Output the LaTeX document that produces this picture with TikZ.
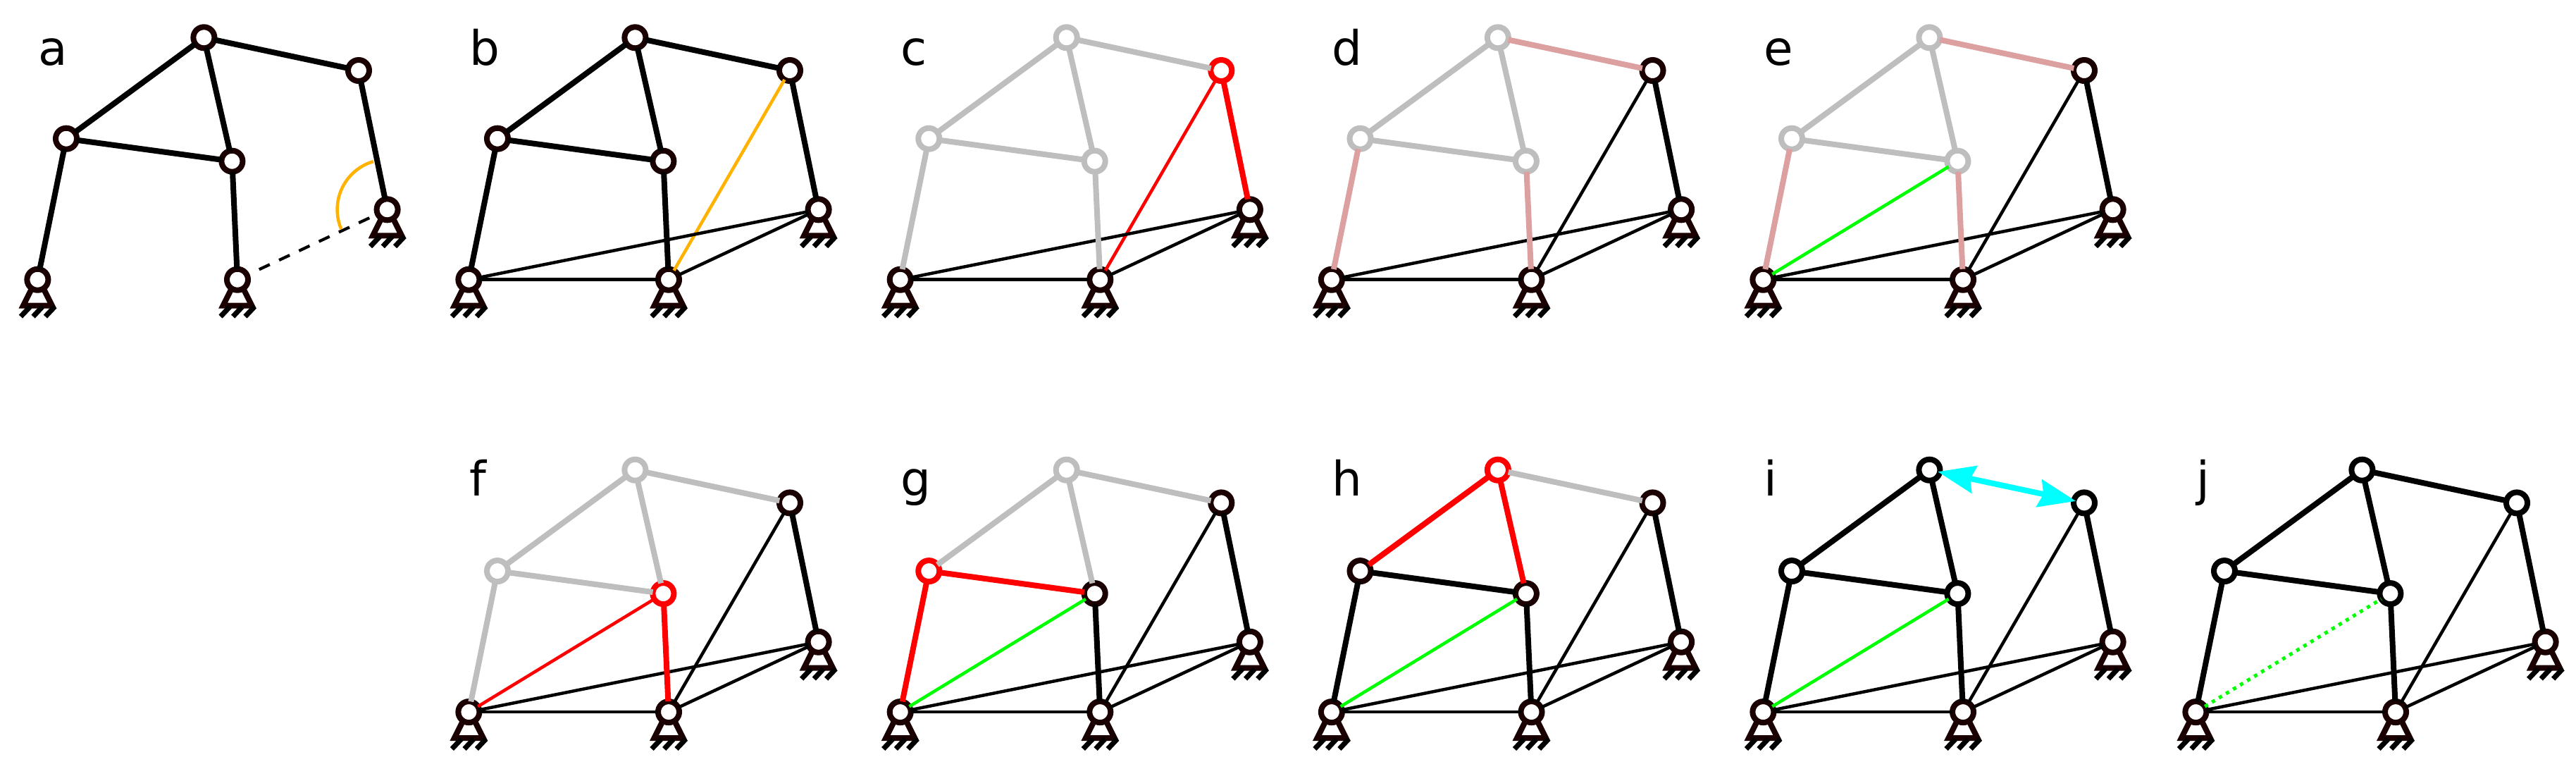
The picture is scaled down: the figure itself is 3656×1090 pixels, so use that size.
\documentclass[tikz,border=0pt]{standalone}
\usepackage{fontspec}
\setmainfont{DejaVu Sans}
\usetikzlibrary{arrows.meta}
\definecolor{jointc}{HTML}{1A0000}
\definecolor{greyc}{HTML}{BEBEBE}
\definecolor{pinkc}{HTML}{DDA0A0}
\definecolor{redc}{HTML}{FF0000}
\definecolor{greenc}{HTML}{00FF00}
\definecolor{orangec}{HTML}{FFB300}
\definecolor{cyanc}{HTML}{00FFFF}
\tikzset{
  jointn/.style={circle,draw=#1,fill=white,line width=0.08cm,minimum size=0.30cm,inner sep=0pt,outer sep=0pt},
  linkthick/.style={draw=#1,line width=0.08cm,line cap=butt},
  linkthin/.style={draw=#1,line width=0.045cm,line cap=butt},
  panellabel/.style={anchor=base west,font=\fontsize{19.2pt}{20pt}\selectfont,inner sep=0pt},
  gtri/.style={draw=jointc,line width=0.08cm,miter limit=10},
  ghatch/.style={draw=black,line width=0.072cm},
  dhead/.tip={Stealth[length=0.53cm,width=0.39cm,inset=0.06cm]},
}
\newcommand{\Ground}{%
  \draw[gtri] (0,-4) -- (-20.5,37) -- (20.5,37) -- cycle;
  \draw[ghatch] (-10.6,38.3) -- (-24,52.4);
  \draw[ghatch] (6.9,38.3) -- (-6.3,52.4);
  \draw[ghatch] (24.3,38.3) -- (11,52.4);
}
% #1 name #2 dx #3 dy #4..#7 colours of T R L M
\newcommand{\Mech}[7]{%
  \begin{scope}[shift={(#2,#3)}]
    \begin{scope}[shift={(53.4,396.7)}]\Ground\end{scope}
    \begin{scope}[shift={(337,396.7)}]\Ground\end{scope}
    \begin{scope}[shift={(549.6,297.3)}]\Ground\end{scope}
    \node[jointn=#4] (#1T) at (289.4,53.3) {};
    \node[jointn=#5] (#1R) at (509,100) {};
    \node[jointn=#6] (#1L) at (94,196.7) {};
    \node[jointn=#7] (#1M) at (329.4,228.7) {};
    \node[jointn=jointc] (#1A) at (53.4,396.7) {};
    \node[jointn=jointc] (#1B) at (337,396.7) {};
    \node[jointn=jointc] (#1C) at (549.6,297.3) {};
    \node[panellabel] (#1lab) at (53.5,{92-#3*0.0033}) {#1};
  \end{scope}
}
% #1 panel, then colours of: L-T, L-M, T-M, T-R, L-A, M-B, R-C
\newcommand{\Links}[8]{%
  \draw[linkthick=#2] (#1L) -- (#1T);
  \draw[linkthick=#3] (#1L) -- (#1M);
  \draw[linkthick=#4] (#1T) -- (#1M);
  \draw[linkthick=#5] (#1T) -- (#1R);
  \draw[linkthick=#6] (#1L) -- (#1A);
  \draw[linkthick=#7] (#1M) -- (#1B);
  \draw[linkthick=#8] (#1R) -- (#1C);
}
\newcommand{\Base}[1]{%
  \draw[linkthin=black] (#1A) -- (#1B);
  \draw[linkthin=black] (#1A) -- (#1C);
  \draw[linkthin=black] (#1B) -- (#1C);
}
\begin{document}
\begin{tikzpicture}[x=0.01cm,y=-0.01cm]
\useasboundingbox (0,0) rectangle (3656,1090);
% a
\Mech{a}{0}{0}{jointc}{jointc}{jointc}{jointc}
\Links{a}{black}{black}{black}{black}{black}{black}{black}
\draw[draw=black,line width=0.042cm,dash pattern=on 0.166cm off 0.146cm,shorten <=0.19cm] (aB) -- (aC);
\draw[draw=orangec,line width=0.045cm] ([shift={(254:71)}]aC.center) arc[start angle=254,end angle=157,radius=71];
% b
\Mech{b}{612}{0}{jointc}{jointc}{jointc}{jointc}
\draw[linkthin=orangec] (bB) -- (bR);
\Base{b}
\Links{b}{black}{black}{black}{black}{black}{black}{black}
% c
\Mech{c}{1224.3}{0}{greyc}{redc}{greyc}{greyc}
\draw[linkthin=redc] (cB) -- (cR);
\Base{c}
\Links{c}{greyc}{greyc}{greyc}{greyc}{greyc}{greyc}{redc}
% d
\Mech{d}{1836.5}{0}{greyc}{jointc}{greyc}{greyc}
\draw[linkthin=black] (dB) -- (dR);
\Base{d}
\Links{d}{greyc}{greyc}{greyc}{pinkc}{pinkc}{pinkc}{black}
% e
\Mech{e}{2449}{0}{greyc}{jointc}{greyc}{greyc}
\draw[linkthin=black] (eB) -- (eR);
\Base{e}
\draw[linkthin=greenc] (eA) -- (eM);
\Links{e}{greyc}{greyc}{greyc}{pinkc}{pinkc}{pinkc}{black}
% f
\Mech{f}{612}{613.4}{greyc}{jointc}{greyc}{redc}
\draw[linkthin=black] (fB) -- (fR);
\draw[linkthin=redc] (fA) -- (fM);
\Base{f}
\Links{f}{greyc}{greyc}{greyc}{greyc}{greyc}{redc}{black}
% g
\Mech{g}{1224.3}{613.4}{greyc}{jointc}{redc}{jointc}
\draw[linkthin=black] (gB) -- (gR);
\draw[linkthin=greenc] (gA) -- (gM);
\Base{g}
\Links{g}{greyc}{redc}{greyc}{greyc}{redc}{black}{black}
% h
\Mech{h}{1836.5}{613.4}{redc}{jointc}{jointc}{jointc}
\draw[linkthin=black] (hB) -- (hR);
\draw[linkthin=greenc] (hA) -- (hM);
\Base{h}
\Links{h}{redc}{black}{redc}{greyc}{black}{black}{black}
% i
\Mech{i}{2449}{613.4}{black}{black}{black}{black}
\draw[linkthin=black] (iB) -- (iR);
\draw[linkthin=greenc] (iA) -- (iM);
\Base{i}
\draw[linkthick=black] (iL) -- (iT);
\draw[linkthick=black] (iL) -- (iM);
\draw[linkthick=black] (iT) -- (iM);
\draw[linkthick=black] (iL) -- (iA);
\draw[linkthick=black] (iM) -- (iB);
\draw[linkthick=black] (iR) -- (iC);
\draw[draw=cyanc,line width=0.08cm,{dhead}-{dhead},shorten <=-0.03cm,shorten >=-0.03cm] (iT) -- (iR);
% j
\Mech{j}{3063}{613.4}{black}{black}{black}{black}
\draw[linkthin=black] (jB) -- (jR);
\draw[draw=greenc,line width=0.05cm,dash pattern=on 0.05cm off 0.067cm] (jA) -- (jM);
\Base{j}
\Links{j}{black}{black}{black}{black}{black}{black}{black}
\end{tikzpicture}
\end{document}
